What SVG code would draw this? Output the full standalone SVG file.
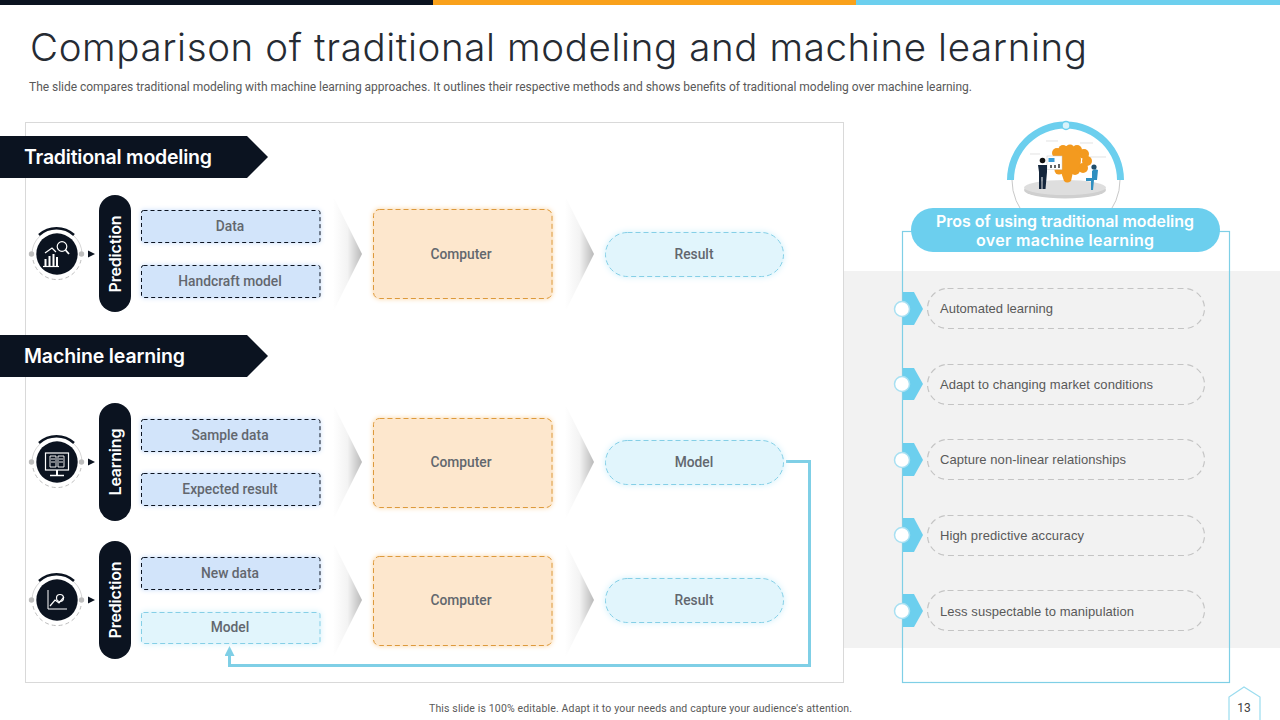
<svg xmlns="http://www.w3.org/2000/svg" xmlns:xlink="http://www.w3.org/1999/xlink" width="1280" height="720" viewBox="0 0 1280 720">
<style>
text{font-family:Roboto,"Liberation Sans",sans-serif}
.lb{font-size:13.800px;font-weight:500;fill:#62676e;text-anchor:middle}
.hd{font-family:Inter,Roboto,sans-serif;font-size:19.500px;font-weight:600;fill:#fff}
.vt{font-family:Inter,Roboto,sans-serif;font-size:16px;font-weight:600;fill:#fff;text-anchor:middle}
.it{font-family:"Liberation Sans",Arial,sans-serif;font-size:13px;fill:#595959}
.blue{fill:#d2e4fa;stroke:#0b1320;stroke-width:1;stroke-dasharray:4 3;filter:drop-shadow(0 0 2.500px #c3dafa)}
.aqua{fill:#e1f5fc;stroke:#85cfe6;stroke-width:1;stroke-dasharray:5 3;filter:drop-shadow(0 0 3px #cdeffb)}
.or{fill:#fde7cd;stroke:#dd9a3c;stroke-width:1;stroke-dasharray:5 3;filter:drop-shadow(0 0 2.500px #fbd39f)}
.ip{fill:#f2f2f2;stroke:#c4c4c4;stroke-width:1.200;stroke-dasharray:6 4}
.ic{fill:none;stroke:#fff;stroke-width:1.200}
.pr{font-family:Inter,Roboto,sans-serif;font-size:16px;font-weight:600;fill:#fff;text-anchor:middle}
</style>
<defs>
<linearGradient id="ch" x1="0" x2="1" y1="0" y2="0"><stop offset="0" stop-color="#fff"/><stop offset=".5" stop-color="#f3f3f3"/><stop offset="1" stop-color="#b9b9b9"/></linearGradient>
<marker id="ah" markerWidth="12" markerHeight="10" refX="5" refY="5" orient="auto" markerUnits="userSpaceOnUse"><path d="M0 0L10 5L0 10Z" fill="#7fcfe6"/></marker>
<g id="badge">
<path d="M39 235A26 26 0 0 1 74 235" fill="none" stroke="#0b1320" stroke-width="2.500"/>
<path d="M32 254A25 25 0 0 1 40 236M74 236A25 25 0 0 1 82 254" fill="none" stroke="#d6d6d6"/>
<path d="M33 260A24.500 24.500 0 0 0 81 260" fill="none" stroke="#bdbdbd" stroke-dasharray="4 3"/>
<circle cx="57" cy="254" r="20.700" fill="#0b1320"/>
<circle cx="31.500" cy="254" r="2.700" fill="#bdbdbd"/><circle cx="81.500" cy="254" r="2.700" fill="#bdbdbd"/>
<path d="M88 250.500L95 254L88 257.500Z" fill="#0b1320"/>
</g>
<g id="chev"><path d="M0 -58L29 0L0 58Z" fill="url(#ch)"/></g>
</defs>
<rect width="1280" height="720" fill="#fff"/>
<rect width="433" height="5" fill="#0b1320"/><rect x="433" width="423" height="5" fill="#f9a11b"/><rect x="856" width="424" height="5" fill="#6ccfee"/>
<text x="30" y="61" font-size="38.500" fill="#262b33" textLength="1057" style="font-family:Inter,Roboto,sans-serif;font-weight:300">Comparison of traditional modeling and machine learning</text>
<text x="29" y="91" font-size="12" fill="#595959" textLength="943">The slide compares traditional modeling with machine learning approaches. It outlines their respective methods and shows benefits of traditional modeling over machine learning.</text>
<rect x="25.500" y="122.500" width="818" height="560" fill="#fff" stroke="#d9d9d9"/>
<rect x="844" y="271" width="436" height="377" fill="#f2f2f2"/>

<g id="connectors" fill="none">
<path d="M786 461.500H809.500V665.500H229.500V651" stroke="#7fcfe6" stroke-width="3" marker-end="url(#ah)"/>
</g>

<g id="header-traditional"><path d="M0 136H247L268 157L247 178H0Z" fill="#0b1320"/><text x="24" y="164" class="hd" textLength="188">Traditional modeling</text></g>
<g id="header-machine"><path d="M0 335H247L268 356L247 377H0Z" fill="#0b1320"/><text x="24" y="363" class="hd" textLength="161">Machine learning</text></g>

<g id="row1">
<use xlink:href="#badge" href="#badge"/>
<g class="ic"><path d="M45.500 266V259M49.500 266V256M53.500 266V254M57 266V257" stroke-width="2"/><path d="M43 266.500H59"/><path d="M45 253L52 248L56 252"/><circle cx="62" cy="246.500" r="4.800"/><path d="M65.500 250L69 254" stroke-width="1.800"/></g>
<rect x="99" y="195" width="32" height="117" rx="16" fill="#0b1320"/>
<text transform="translate(121,254) rotate(-90)" class="vt" textLength="77">Prediction</text>
</g>
<g id="n-data"><rect x="141.500" y="210.500" width="178.500" height="32" rx="2" class="blue"/><text x="230" y="231" class="lb">Data</text></g>
<g id="n-handcraft"><rect x="141.500" y="265.500" width="178.500" height="32" rx="2" class="blue"/><text x="230" y="286" class="lb">Handcraft model</text></g>
<use xlink:href="#chev" href="#chev" x="333" y="254"/>
<g id="n-computer1"><rect x="373.500" y="209.500" width="178.500" height="89" rx="6" class="or"/><text x="461" y="259" class="lb">Computer</text></g>
<use xlink:href="#chev" href="#chev" x="565" y="254"/>
<g id="n-result1"><rect x="605.500" y="232.500" width="178" height="44" rx="22" class="aqua"/><text x="694" y="259" class="lb">Result</text></g>

<g id="row2">
<use xlink:href="#badge" href="#badge" y="208"/>
<g class="ic"><rect x="45.500" y="453" width="23" height="17"/><path d="M57 475V470" stroke-width="2"/><path d="M50 475.500H64" stroke-width="1.500"/><path d="M50 456H56V467H50ZM58 456H64V467H58ZM51 459H55M51 462H55M59 459H63M59 462H63" stroke-width=".9"/></g>
<rect x="99" y="403" width="32" height="118" rx="16" fill="#0b1320"/>
<text transform="translate(121,462) rotate(-90)" class="vt" textLength="67">Learning</text>
</g>
<g id="n-sample"><rect x="141.500" y="419.500" width="178.500" height="32" rx="2" class="blue"/><text x="230" y="440" class="lb">Sample data</text></g>
<g id="n-expected"><rect x="141.500" y="473.500" width="178.500" height="32" rx="2" class="blue"/><text x="230" y="494" class="lb">Expected result</text></g>
<use xlink:href="#chev" href="#chev" x="333" y="462"/>
<g id="n-computer2"><rect x="373.500" y="418.500" width="178.500" height="89" rx="6" class="or"/><text x="461" y="467" class="lb">Computer</text></g>
<use xlink:href="#chev" href="#chev" x="565" y="462"/>
<g id="n-model1"><rect x="605.500" y="440.500" width="178" height="44" rx="22" class="aqua"/><text x="694" y="467" class="lb">Model</text></g>

<g id="row3">
<use xlink:href="#badge" href="#badge" y="346"/>
<g class="ic" stroke-width="1"><path d="M48 590V609H67" stroke-width="1"/><path d="M50 606L55 600L59 603L64 597"/><circle cx="60" cy="598" r="3.500"/></g>
<rect x="99" y="541" width="32" height="118" rx="16" fill="#0b1320"/>
<text transform="translate(121,600) rotate(-90)" class="vt" textLength="77">Prediction</text>
</g>
<g id="n-newdata"><rect x="141.500" y="557.500" width="178.500" height="32" rx="2" class="blue"/><text x="230" y="578" class="lb">New data</text></g>
<g id="n-model2"><rect x="141.500" y="612.500" width="178.500" height="31" rx="2" class="aqua"/><text x="230" y="632" class="lb">Model</text></g>
<use xlink:href="#chev" href="#chev" x="333" y="600"/>
<g id="n-computer3"><rect x="373.500" y="556.500" width="178.500" height="89" rx="6" class="or"/><text x="461" y="605" class="lb">Computer</text></g>
<use xlink:href="#chev" href="#chev" x="565" y="600"/>
<g id="n-result2"><rect x="605.500" y="578.500" width="178" height="44" rx="22" class="aqua"/><text x="694" y="605" class="lb">Result</text></g>

<g id="pros-panel">
<rect x="902.500" y="231.500" width="327" height="451" fill="none" stroke="#7fcfe6" stroke-width="1.200"/>
<g id="brain-art">
<circle cx="1066" cy="180" r="54" fill="#fff" stroke="#c9c9c9"/>
<path d="M1007 180A58.500 58.500 0 0 1 1124 180H1117A51.500 51.500 0 0 0 1014 180Z" fill="#6ccfee"/>
<circle cx="1066" cy="125.500" r="4" fill="#d9f3fb" stroke="#6ccfee" stroke-width="1.500"/>
<path d="M1046 141H1058M1080 143H1093M1030 154H1040M1090 157H1106" stroke="#d5d5d5" stroke-width=".7"/>
<ellipse cx="1065" cy="190" rx="41" ry="8.500" fill="#cfcfcf"/><ellipse cx="1065" cy="187.500" rx="41" ry="7.500" fill="#dedede"/>
<g fill="#f39a1f"><circle cx="1057" cy="153" r="5"/><circle cx="1063" cy="149.500" r="4.500"/><circle cx="1070" cy="149" r="4.500"/><circle cx="1077" cy="150" r="5"/><circle cx="1084" cy="154" r="5"/><circle cx="1087" cy="161" r="5"/><circle cx="1083" cy="168" r="5"/><circle cx="1075" cy="170" r="5"/><circle cx="1067" cy="171" r="5"/><circle cx="1059" cy="170" r="4.500"/><circle cx="1053" cy="163" r="5"/><circle cx="1067" cy="160" r="14"/><path d="M1061 172H1073L1071 181Q1067 184 1064 181Z"/></g>
<rect x="1047" y="156" width="15" height="13.500" fill="#fff" stroke="#ccc" stroke-width=".5"/><rect x="1048.500" y="158" width="6" height="4" fill="#3a9bd5"/><path d="M1051 168v-3M1055 168v-3M1059 168v-4" stroke="#111" stroke-width="1.300"/>
<path d="M1039 189V172L1038 165H1047V172L1045.500 189H1042.500V177H1041.500V189Z" fill="#14263c"/><circle cx="1042.500" cy="160.500" r="2.800" fill="#111"/>
<path d="M1086 178H1092L1092 171Q1094 168 1098 170L1097 180H1094L1093 190H1091V181H1086Z" fill="#2f8fc0"/><circle cx="1094" cy="167" r="2.600" fill="#1f4d6b"/>
</g>
<rect x="911" y="208" width="309" height="44" rx="22" fill="#6ccfee"/>
<text x="1065" y="227" class="pr" textLength="258">Pros of using traditional modeling</text>
<text x="1065" y="246" class="pr" textLength="178">over machine learning</text>
</g>

<g id="item1"><path d="M903 292H914L923 309L914 325H903Z" fill="#6ccfee"/><circle cx="902" cy="309" r="7.500" fill="#fff" stroke="#a8e0f2" stroke-width="1.500"/><rect x="927.500" y="288.500" width="277" height="40" rx="20" class="ip"/><text x="940" y="313" class="it" textLength="113">Automated learning</text></g>
<g id="item2"><path d="M903 368H914L923 384L914 400H903Z" fill="#6ccfee"/><circle cx="902" cy="384" r="7.500" fill="#fff" stroke="#a8e0f2" stroke-width="1.500"/><rect x="927.500" y="364.500" width="277" height="40" rx="20" class="ip"/><text x="940" y="389" class="it" textLength="213">Adapt to changing market conditions</text></g>
<g id="item3"><path d="M903 443H914L923 460L914 476H903Z" fill="#6ccfee"/><circle cx="902" cy="460" r="7.500" fill="#fff" stroke="#a8e0f2" stroke-width="1.500"/><rect x="927.500" y="439.500" width="277" height="40" rx="20" class="ip"/><text x="940" y="464" class="it" textLength="186">Capture non-linear relationships</text></g>
<g id="item4"><path d="M903 518H914L923 535L914 552H903Z" fill="#6ccfee"/><circle cx="902" cy="535" r="7.500" fill="#fff" stroke="#a8e0f2" stroke-width="1.500"/><rect x="927.500" y="515.500" width="277" height="40" rx="20" class="ip"/><text x="940" y="540" class="it" textLength="144">High predictive accuracy</text></g>
<g id="item5"><path d="M903 594H914L923 611L914 627H903Z" fill="#6ccfee"/><circle cx="902" cy="611" r="7.500" fill="#fff" stroke="#a8e0f2" stroke-width="1.500"/><rect x="927.500" y="590.500" width="277" height="40" rx="20" class="ip"/><text x="940" y="616" class="it" textLength="194">Less suspectable to manipulation</text></g>

<text x="429" y="712" font-size="10.500" fill="#595959" textLength="423">This slide is 100% editable.  Adapt it to your needs and capture your audience's attention.</text>
<g id="page"><path d="M1229 720V697L1244 687L1260 697V720" fill="#fff" stroke="#9adcef" stroke-width="1.200"/><text x="1244" y="712" font-size="12" fill="#404040" text-anchor="middle">13</text></g>
</svg>
